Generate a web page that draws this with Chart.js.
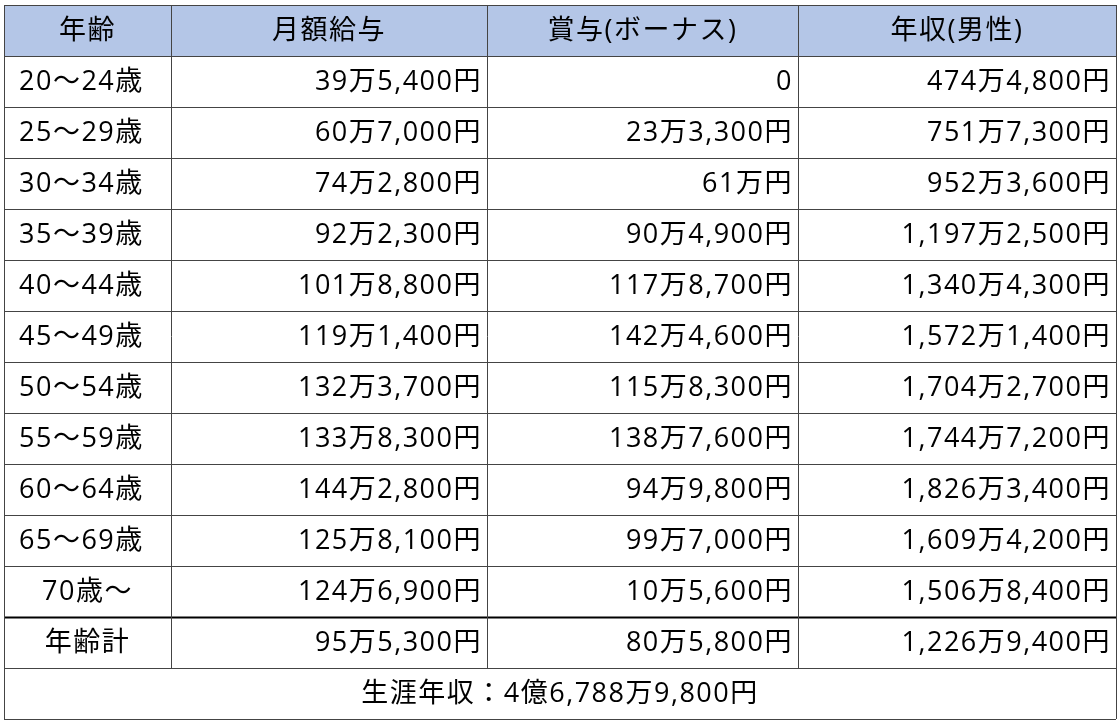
<!DOCTYPE html>
<html><head><meta charset="utf-8">
<script src="https://cdn.jsdelivr.net/npm/chart.js@4"></script>
<style>body{margin:0;background:#fff}canvas{display:block}</style>
</head><body>
<canvas id="c" width="1120" height="724"></canvas>
<script>
// 表のデータ
const headers = ['年齢', '月額給与', '賞与(ボーナス)', '年収(男性)'];
const ages = ['20〜24歳','25〜29歳','30〜34歳','35〜39歳','40〜44歳','45〜49歳','50〜54歳','55〜59歳','60〜64歳','65〜69歳','70歳〜','年齢計'];
const monthly = ['39万5,400円','60万7,000円','74万2,800円','92万2,300円','101万8,800円','119万1,400円','132万3,700円','133万8,300円','144万2,800円','125万8,100円','124万6,900円','95万5,300円'];
const bonus = ['0','23万3,300円','61万円','90万4,900円','117万8,700円','142万4,600円','115万8,300円','138万7,600円','94万9,800円','99万7,000円','10万5,600円','80万5,800円'];
const annual = ['474万4,800円','751万7,300円','952万3,600円','1,197万2,500円','1,340万4,300円','1,572万1,400円','1,704万2,700円','1,744万7,200円','1,826万3,400円','1,609万4,200円','1,506万8,400円','1,226万9,400円'];
const footer = '生涯年収：4億6,788万9,800円';

const colEdges = [4, 171, 487, 798, 1116];
const rowTop = 5, rowH = 51;

const tablePlugin = {
  id: 'table',
  afterDraw(chart) {
    const ctx = chart.ctx, xs = chart.scales.x, ys = chart.scales.y;
    const X = v => xs.getPixelForValue(v), Y = v => ys.getPixelForValue(v);
    const nRows = ages.length + 2;
    const left = X(colEdges[0]), right = X(colEdges[4]);
    ctx.save();
    // ヘッダー背景
    ctx.fillStyle = '#B4C6E7';
    ctx.fillRect(left, Y(rowTop), right - left, Y(rowTop + rowH) - Y(rowTop));
    ctx.font = '27px "Open Sans", "Noto Sans CJK JP", sans-serif';
    ctx.letterSpacing = '1.5px';
    ctx.fillStyle = '#000';
    ctx.textBaseline = 'middle';
    const mid = r => Y(rowTop + rowH * r + rowH / 2) + 1;
    headers.forEach((h, i) => {
      ctx.textAlign = 'center';
      ctx.fillText(h, (X(colEdges[i]) + X(colEdges[i + 1])) / 2, mid(0));
    });
    ages.forEach((a, r) => {
      const y = mid(r + 1);
      if (r >= ages.length - 2) {
        ctx.textAlign = 'center';
        ctx.fillText(a, (X(colEdges[0]) + X(colEdges[1])) / 2, y);
      } else {
        ctx.textAlign = 'left';
        ctx.fillText(a, X(colEdges[0]) + 15, y);
      }
      ctx.textAlign = 'right';
      [monthly, bonus, annual].forEach((arr, c) => ctx.fillText(arr[r], X(colEdges[c + 2]) - 5, y));
    });
    ctx.textAlign = 'center';
    ctx.fillText(footer, (left + right) / 2, mid(nRows - 1));
    // 罫線
    for (let r = 0; r <= nRows; r++) {
      const y = Math.round(Y(rowTop + rowH * r)) + 0.5;
      ctx.lineWidth = (r === nRows - 2) ? 2 : 1;
      ctx.strokeStyle = (r === nRows - 2) ? '#000' : '#444';
      ctx.beginPath(); ctx.moveTo(left, y); ctx.lineTo(right, y); ctx.stroke();
    }
    ctx.lineWidth = 1; ctx.strokeStyle = '#444';
    colEdges.forEach((cx, i) => {
      const x = Math.round(X(cx)) + 0.5;
      const bottom = (i === 0 || i === colEdges.length - 1) ? rowTop + rowH * nRows : rowTop + rowH * (nRows - 1);
      ctx.beginPath(); ctx.moveTo(x, Y(rowTop)); ctx.lineTo(x, Y(bottom)); ctx.stroke();
    });
    ctx.restore();
  }
};

new Chart(document.getElementById('c'), {
  type: 'scatter',
  data: { datasets: [{ data: [] }] },
  options: {
    responsive: false, animation: false,
    layout: { padding: 0 },
    plugins: { legend: { display: false }, tooltip: { enabled: false } },
    scales: {
      x: { type: 'linear', min: 0, max: 1120, display: false },
      y: { type: 'linear', min: 0, max: 724, reverse: true, display: false }
    }
  },
  plugins: [tablePlugin]
});
</script>
</body></html>
